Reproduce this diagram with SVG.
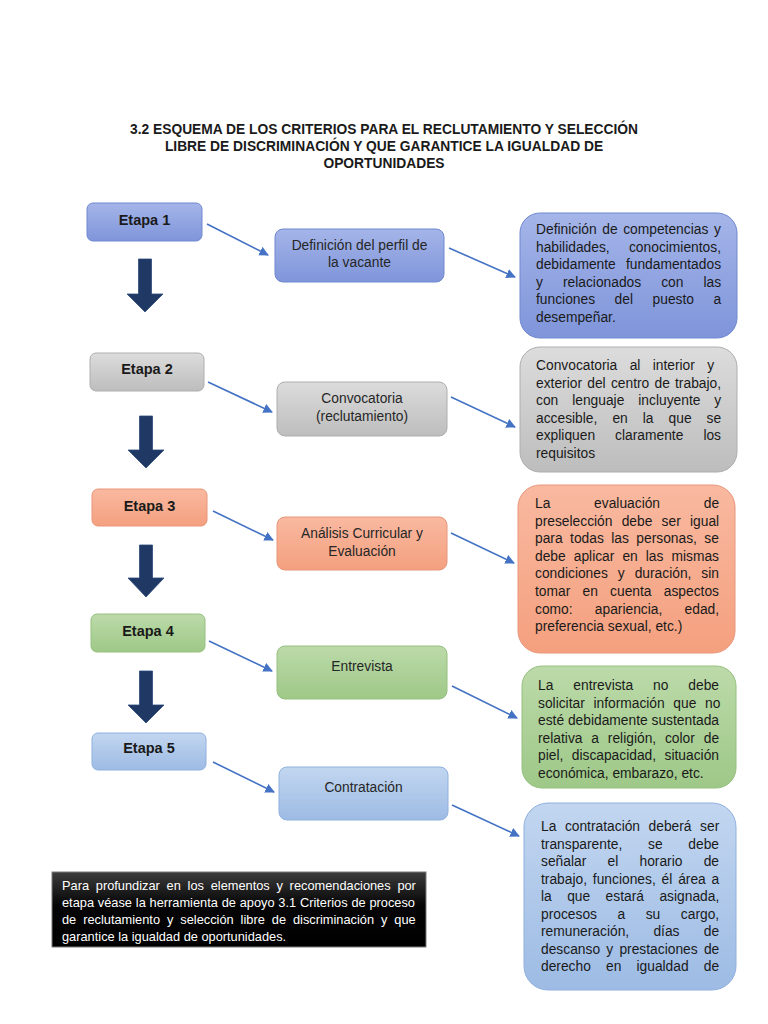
<svg xmlns="http://www.w3.org/2000/svg" width="768" height="1024" viewBox="0 0 768 1024">
<defs>
  <linearGradient id="gBlue" x1="0" y1="0" x2="0" y2="1"><stop offset="0" stop-color="#a5b5e9"/><stop offset="1" stop-color="#7f95da"/></linearGradient>
  <linearGradient id="gGray" x1="0" y1="0" x2="0" y2="1"><stop offset="0" stop-color="#dcdcdc"/><stop offset="1" stop-color="#bdbdbd"/></linearGradient>
  <linearGradient id="gOrange" x1="0" y1="0" x2="0" y2="1"><stop offset="0" stop-color="#f9b9a0"/><stop offset="1" stop-color="#f4a07f"/></linearGradient>
  <linearGradient id="gGreen" x1="0" y1="0" x2="0" y2="1"><stop offset="0" stop-color="#bcdaa9"/><stop offset="1" stop-color="#9ec888"/></linearGradient>
  <linearGradient id="gLight" x1="0" y1="0" x2="0" y2="1"><stop offset="0" stop-color="#c2d6f0"/><stop offset="1" stop-color="#9dbbe4"/></linearGradient>
  <linearGradient id="gBlack" x1="0" y1="0" x2="0" y2="1"><stop offset="0" stop-color="#3c3c3c"/><stop offset="0.45" stop-color="#050505"/><stop offset="1" stop-color="#000000"/></linearGradient>
  <marker id="ah" viewBox="0 0 10 10" refX="9" refY="5" markerWidth="6" markerHeight="6" orient="auto">
    <path d="M0,0 L10,5 L0,10 z" fill="#4472c4"/>
  </marker>
  <style>
    .title{font-family:"Liberation Sans",Arial,sans-serif;font-weight:bold;font-size:13.8px;fill:#1a1a1a;text-anchor:middle}
    .etapa{font-family:"Liberation Sans",Arial,sans-serif;font-weight:bold;font-size:14.5px;fill:#1a1a1a;text-anchor:middle}
    .mid{font-family:"Liberation Sans",Arial,sans-serif;font-size:13.8px;fill:#262626;text-anchor:middle}
    .body{font-family:"Liberation Sans",Arial,sans-serif;font-size:13.8px;fill:#1a1a1a}
    .note{font-family:"Liberation Sans",Arial,sans-serif;font-size:12.8px;fill:#ffffff}
    .blue{fill:url(#gBlue);stroke:#7088cf;stroke-width:1}
    .gray{fill:url(#gGray);stroke:#aeaeae;stroke-width:1}
    .orange{fill:url(#gOrange);stroke:#e8967a;stroke-width:1}
    .green{fill:url(#gGreen);stroke:#95c07f;stroke-width:1}
    .light{fill:url(#gLight);stroke:#8fb0de;stroke-width:1}
    .conn{stroke:#4472c4;stroke-width:1.6;fill:none;marker-end:url(#ah)}
    .down{fill:#1f3864;stroke:#2c4a7a;stroke-width:0.8}
  </style>
</defs>
<rect width="768" height="1024" fill="#ffffff"/>

<g id="title">
  <text class="title" x="384" y="134">3.2 ESQUEMA DE LOS CRITERIOS PARA EL RECLUTAMIENTO Y SELECCIÓN</text>
  <text class="title" x="384" y="151">LIBRE DE DISCRIMINACIÓN Y QUE GARANTICE LA IGUALDAD DE</text>
  <text class="title" x="384" y="168">OPORTUNIDADES</text>
</g>

<g id="etapa1"><rect class="blue" x="87" y="203" width="115" height="38" rx="6"/><text class="etapa" x="144.5" y="225">Etapa 1</text></g>
<g id="etapa2"><rect class="gray" x="90" y="353" width="114" height="38" rx="6"/><text class="etapa" x="147" y="374">Etapa 2</text></g>
<g id="etapa3"><rect class="orange" x="92" y="489" width="115" height="37" rx="6"/><text class="etapa" x="149.5" y="511">Etapa 3</text></g>
<g id="etapa4"><rect class="green" x="91" y="614" width="114" height="38" rx="6"/><text class="etapa" x="148" y="636">Etapa 4</text></g>
<g id="etapa5"><rect class="light" x="92" y="733" width="114" height="37" rx="6"/><text class="etapa" x="149" y="753">Etapa 5</text></g>

<g id="perfil"><rect class="blue" x="275" y="229" width="169" height="53" rx="8"/>
  <text class="mid" x="359.5" y="250">Definición del perfil de</text><text class="mid" x="359.5" y="267">la vacante</text></g>
<g id="convocatoria"><rect class="gray" x="277" y="382" width="170" height="54" rx="8"/>
  <text class="mid" x="362" y="403">Convocatoria</text><text class="mid" x="362" y="421">(reclutamiento)</text></g>
<g id="analisis"><rect class="orange" x="277" y="517" width="170" height="53" rx="8"/>
  <text class="mid" x="362" y="538">Análisis Curricular y</text><text class="mid" x="362" y="556">Evaluación</text></g>
<g id="entrevista"><rect class="green" x="277" y="646" width="170" height="53" rx="8"/>
  <text class="mid" x="362" y="671">Entrevista</text></g>
<g id="contratacion"><rect class="light" x="279" y="767" width="169" height="53" rx="8"/>
  <text class="mid" x="363.5" y="792">Contratación</text></g>

<g id="detalle1"><rect class="blue" x="520" y="213" width="217" height="125" rx="20"/>
  <text class="body" x="536" y="234" style="word-spacing:1.8px">Definición de competencias y</text>
  <text class="body" x="536" y="251.6" style="word-spacing:15.5px">habilidades, conocimientos,</text>
  <text class="body" x="536" y="269.2" style="word-spacing:6.3px">debidamente fundamentados</text>
  <text class="body" x="536" y="286.8" style="word-spacing:16.2px">y relacionados con las</text>
  <text class="body" x="536" y="304.4" style="word-spacing:15.7px">funciones del puesto a</text>
  <text class="body" x="536" y="322">desempeñar.</text></g>

<g id="detalle2"><rect class="gray" x="520" y="347" width="217" height="125" rx="20"/>
  <text class="body" x="536" y="370" style="word-spacing:8.5px">Convocatoria al interior y</text>
  <text class="body" x="536" y="387.6" style="word-spacing:1.4px">exterior del centro de trabajo,</text>
  <text class="body" x="536" y="405.2" style="word-spacing:10.1px">con lenguaje incluyente y</text>
  <text class="body" x="536" y="422.8" style="word-spacing:11.2px">accesible, en la que se</text>
  <text class="body" x="536" y="440.4" style="word-spacing:16.2px">expliquen claramente los</text>
  <text class="body" x="536" y="458">requisitos</text></g>

<g id="detalle3"><rect class="orange" x="518" y="485" width="217" height="168" rx="22"/>
  <text class="body" x="535" y="508" style="word-spacing:39.9px">La evaluación de</text>
  <text class="body" x="535" y="525.6" style="word-spacing:5.4px">preselección debe ser igual</text>
  <text class="body" x="535" y="543.2" style="word-spacing:3.6px">para todas las personas, se</text>
  <text class="body" x="535" y="560.8" style="word-spacing:4.2px">debe aplicar en las mismas</text>
  <text class="body" x="535" y="578.4" style="word-spacing:6.1px">condiciones y duración, sin</text>
  <text class="body" x="535" y="596" style="word-spacing:8.4px">tomar en cuenta aspectos</text>
  <text class="body" x="535" y="613.6" style="word-spacing:18.4px">como: apariencia, edad,</text>
  <text class="body" x="535" y="631.2">preferencia sexual, etc.)</text></g>

<g id="detalle4"><rect class="green" x="522" y="666" width="214" height="122" rx="20"/>
  <text class="body" x="538" y="690" style="word-spacing:16.1px">La entrevista no debe</text>
  <text class="body" x="538" y="707.6" style="word-spacing:4.8px">solicitar información que no</text>
  <text class="body" x="538" y="725.2" style="word-spacing:0px">esté debidamente sustentada</text>
  <text class="body" x="538" y="742.8" style="word-spacing:5px">relativa a religión, color de</text>
  <text class="body" x="538" y="760.4" style="word-spacing:4.6px">piel, discapacidad, situación</text>
  <text class="body" x="538" y="778">económica, embarazo, etc.</text></g>

<g id="detalle5"><rect class="light" x="524" y="803" width="212" height="187" rx="24"/>
  <text class="body" x="541" y="831" style="word-spacing:4.7px">La contratación deberá ser</text>
  <text class="body" x="541" y="848.5" style="word-spacing:21.9px">transparente, se debe</text>
  <text class="body" x="541" y="866" style="word-spacing:17.4px">señalar el horario de</text>
  <text class="body" x="541" y="883.5" style="word-spacing:2px">trabajo, funciones, él área a</text>
  <text class="body" x="541" y="901" style="word-spacing:11.6px">la que estará asignada,</text>
  <text class="body" x="541" y="918.5" style="word-spacing:16.7px">procesos a su cargo,</text>
  <text class="body" x="541" y="936" style="word-spacing:20.4px">remuneración, días de</text>
  <text class="body" x="541" y="953.5" style="word-spacing:2.4px">descanso y prestaciones de</text>
  <text class="body" x="541" y="971" style="word-spacing:11.3px">derecho en igualdad de</text></g>

<g id="nota"><rect x="52" y="872" width="374" height="75" fill="url(#gBlack)" stroke="#7a7a7a" stroke-width="1"/>
  <text class="note" x="62" y="889.5" style="word-spacing:3.2px">Para profundizar en los elementos y recomendaciones por</text>
  <text class="note" x="62" y="906.8" style="word-spacing:0.25px">etapa véase la herramienta de apoyo 3.1 Criterios de proceso</text>
  <text class="note" x="62" y="924.1" style="word-spacing:3.4px">de reclutamiento y selección libre de discriminación y que</text>
  <text class="note" x="62" y="941.4">garantice la igualdad de oportunidades.</text></g>

<g id="connectors">
  <line class="conn" x1="207" y1="224" x2="268" y2="255"/>
  <line class="conn" x1="208" y1="382" x2="272" y2="412"/>
  <line class="conn" x1="213" y1="511" x2="273" y2="540"/>
  <line class="conn" x1="209" y1="641" x2="272" y2="671"/>
  <line class="conn" x1="213" y1="762" x2="274" y2="792"/>
  <line class="conn" x1="449" y1="248" x2="515" y2="277"/>
  <line class="conn" x1="451" y1="397" x2="515" y2="427"/>
  <line class="conn" x1="451" y1="533" x2="514" y2="563"/>
  <line class="conn" x1="452" y1="686" x2="517" y2="718"/>
  <line class="conn" x1="452" y1="805" x2="519" y2="836"/>
  <polygon class="down" points="138.5,259 151.5,259 151.5,294 163,294 145,312 127,294 138.5,294"/>
  <polygon class="down" points="139.5,416 152.5,416 152.5,450 164,450 146,468 128,450 139.5,450"/>
  <polygon class="down" points="139.5,545 152.5,545 152.5,578 164,578 146,597 128,578 139.5,578"/>
  <polygon class="down" points="139.5,671 152.5,671 152.5,705 164,705 146,723 128,705 139.5,705"/>
</g>
</svg>
